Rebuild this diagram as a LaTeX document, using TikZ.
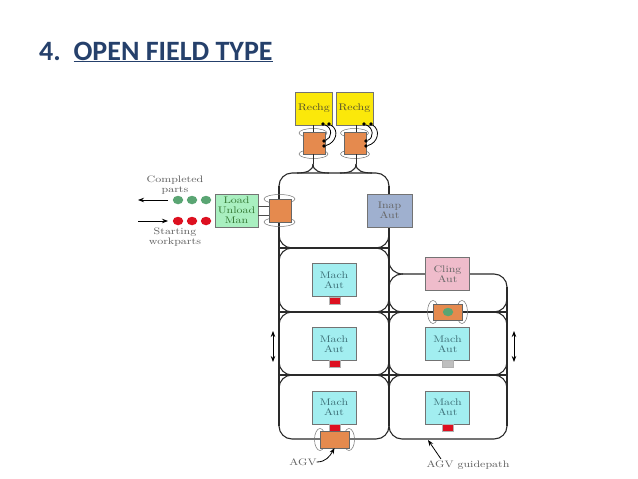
\documentclass[tikz,border=0pt]{standalone}
\usepackage{fontspec}
\newfontfamily\titlefont{Carlito}
\newfontfamily\widefont{Latin Modern Roman}[FakeStretch=1.24]
\usetikzlibrary{shapes.geometric,arrows.meta}
\definecolor{pathline}{HTML}{2a2a2a}
\definecolor{titleblue}{HTML}{25406b}
\definecolor{rechgfill}{HTML}{fbe80a}
\definecolor{agvfill}{HTML}{e58a4e}
\definecolor{loadfill}{HTML}{a9efc0}
\definecolor{inapfill}{HTML}{9fb0cf}
\definecolor{machfill}{HTML}{a2eef0}
\definecolor{clingfill}{HTML}{efbccb}
\definecolor{stopred}{HTML}{dd1020}
\definecolor{partgreen}{HTML}{5aa573}
\definecolor{labelgray}{HTML}{606060}
\definecolor{machtext}{HTML}{3d7078}
\tikzstyle{cell}=[rectangle, draw=pathline, line width=1.1pt, rounded corners=13pt, inner sep=0pt, outer sep=0pt]
\tikzstyle{station}=[rectangle, draw=black!55, line width=0.5pt, inner sep=0pt, outer sep=0pt, align=center, font=\widefont\fontsize{9.6}{10}\selectfont]
\tikzstyle{mach}=[station, fill=machfill, text=machtext, minimum width=44pt, minimum height=33pt]
\tikzstyle{agv}=[rectangle, draw=black!60, line width=0.5pt, fill=agvfill, inner sep=0pt, outer sep=0pt]
\tikzstyle{stop}=[rectangle, fill=stopred, draw=black!30, line width=0.3pt, minimum width=10.5pt, minimum height=7pt, inner sep=0pt]
\tikzstyle{loop}=[ellipse, draw=black!55, line width=0.5pt, inner sep=0pt, outer sep=0pt]
\tikzstyle{part}=[ellipse, minimum width=10.5pt, minimum height=8.5pt, inner sep=0pt]
\tikzstyle{pin}=[circle, fill=black, minimum size=3.8pt, inner sep=0pt, outer sep=0pt]
\tikzstyle{caption}=[inner sep=0pt, text=labelgray, align=center, font=\widefont\fontsize{9.4}{10}\selectfont]
\tikzstyle{flow}=[-{Stealth[length=6pt,width=4.5pt]}, line width=0.8pt, black]
\begin{document}
\begin{tikzpicture}[x=1pt, y=-1pt]
  \useasboundingbox (0,0) rectangle (638,479);
  \node (title) at (39,52) [anchor=west, inner sep=0pt, text=titleblue, font=\titlefont\bfseries\fontsize{28}{30}\selectfont] {4.\ \ \underline{OPEN FIELD TYPE}};

  \node (cellTop) at (334,210.5) [cell, minimum width=110pt, minimum height=75pt] {};
  \node (cellA) at (334,280) [cell, minimum width=110pt, minimum height=64pt] {};
  \node (cellB) at (334,343.5) [cell, minimum width=110pt, minimum height=63pt] {};
  \node (cellC) at (334,407) [cell, minimum width=110pt, minimum height=64pt] {};
  \node (cellD) at (448,293) [cell, minimum width=118pt, minimum height=38pt] {};
  \node (cellE) at (448,343.5) [cell, minimum width=118pt, minimum height=63pt] {};
  \node (cellF) at (448,407) [cell, minimum width=118pt, minimum height=64pt] {};
  \coordinate (leftTop) at (279,186);
  \coordinate (leftBot) at (279,426);
  \coordinate (midTop) at (389,186);
  \coordinate (midBot) at (389,426);
  \coordinate (rightTop) at (507,287);
  \coordinate (rightBot) at (507,426);
  \coordinate (forkD) at (389,261);
  \coordinate (joinD) at (403,274);
  \draw[pathline, line width=1.1pt] (leftTop) -- (leftBot);
  \draw[pathline, line width=1.1pt] (midTop) -- (midBot);
  \draw[pathline, line width=1.1pt] (rightTop) -- (rightBot);
  \draw[pathline, line width=1.1pt] (cellA.north west) -- (cellA.north east);
  \draw[pathline, line width=1.1pt] (cellB.north west) -- (cellE.north east);
  \draw[pathline, line width=1.1pt] (cellC.north west) -- (cellF.north east);
  \draw[pathline, line width=1.1pt] (forkD) .. controls (389,269) and (395,274) .. (joinD);

  \node (rechgA) at (314,108.5) [station, fill=rechgfill, text=black!55!olive, minimum width=37pt, minimum height=33pt] {Rechg};
  \node (rechgB) at (354.5,108.5) [station, fill=rechgfill, text=black!55!olive, minimum width=37pt, minimum height=33pt] {Rechg};
  \node (loopAtop) at (313,133) [loop, minimum width=28pt, minimum height=9pt] {};
  \node (loopAbot) at (313.5,154) [loop, minimum width=29pt, minimum height=9pt] {};
  \node (loopBtop) at (354.5,133) [loop, minimum width=28pt, minimum height=9pt] {};
  \node (loopBbot) at (355,154) [loop, minimum width=29pt, minimum height=9pt] {};
  \node (agvA) at (314,143) [agv, minimum width=22pt, minimum height=22pt] {};
  \node (agvB) at (355,143) [agv, minimum width=22pt, minimum height=22pt] {};
  \coordinate (forkA) at (313,164);
  \coordinate (forkB) at (356,164);
  \coordinate (endAl) at (297,173);
  \coordinate (endAr) at (329,173);
  \coordinate (endBl) at (340,173);
  \coordinate (endBr) at (372,173);
  \draw[pathline, line width=1pt] (rechgA.south -| forkA) -- (agvA.north -| forkA);
  \draw[pathline, line width=1pt] (rechgB.south -| forkB) -- (agvB.north -| forkB);
  \draw[pathline, line width=1pt] (agvA.south -| forkA) -- (forkA);
  \draw[pathline, line width=1pt] (agvB.south -| forkB) -- (forkB);
  \draw[pathline, line width=1.1pt] (forkA) .. controls (313,171) and (306,173) .. (endAl);
  \draw[pathline, line width=1.1pt] (forkA) .. controls (313,171) and (320,173) .. (endAr);
  \draw[pathline, line width=1.1pt] (forkB) .. controls (356,171) and (349,173) .. (endBl);
  \draw[pathline, line width=1.1pt] (forkB) .. controls (356,171) and (363,173) .. (endBr);

  \node (pinA1) at (323,124) [pin] {};
  \node (pinA2) at (329,124) [pin] {};
  \node (pinA3) at (324,141) [pin] {};
  \node (pinA4) at (324,146) [pin] {};
  \node (pinB1) at (364,124) [pin] {};
  \node (pinB2) at (371,124) [pin] {};
  \node (pinB3) at (366,141) [pin] {};
  \node (pinB4) at (366,146) [pin] {};
  \draw[black, line width=0.8pt] (pinA1) .. controls (333,128) and (332,138) .. (pinA3);
  \draw[black, line width=0.8pt] (pinA2) .. controls (340,130) and (336,143) .. (pinA4);
  \draw[black, line width=0.8pt] (pinB1) .. controls (374,128) and (374,138) .. (pinB3);
  \draw[black, line width=0.8pt] (pinB2) .. controls (381,130) and (378,143) .. (pinB4);

  \node (loopLtop) at (279.5,199) [loop, minimum width=31pt, minimum height=9pt] {};
  \node (loopLbot) at (279.5,222) [loop, minimum width=31pt, minimum height=9pt] {};
  \node (agvL) at (280,210.5) [agv, minimum width=22pt, minimum height=23pt] {};
  \node (load) at (236.5,210.5) [station, fill=loadfill, text=black!55!green!60!gray, minimum width=43pt, minimum height=33pt] {Load\\Unload\\Man};
  \draw[black!70, line width=0.5pt] (load.east |- 0,206) -- (agvL.west |- 0,206);
  \draw[black!70, line width=0.5pt] (load.east |- 0,215) -- (agvL.west |- 0,215);
  \node (inap) at (389.5,210.5) [station, fill=inapfill, text=black!60, minimum width=45pt, minimum height=33pt] {Inap\\Aut};

  \node (doneA) at (178,200) [part, fill=partgreen] {};
  \node (doneB) at (192,200) [part, fill=partgreen] {};
  \node (doneC) at (206,200) [part, fill=partgreen] {};
  \node (startA) at (178,221) [part, fill=stopred] {};
  \node (startB) at (192,221) [part, fill=stopred] {};
  \node (startC) at (206,221) [part, fill=stopred] {};
  \coordinate (doneEnd) at (138,200);
  \coordinate (doneTail) at (168,200);
  \coordinate (startEnd) at (138,221);
  \coordinate (startTip) at (168,221);
  \draw[flow] (doneTail) -- (doneEnd);
  \draw[flow] (startEnd) -- (startTip);
  \node (doneText) at (175,185) [caption] {Completed\\parts};
  \node (startText) at (175,237) [caption] {Starting\\workparts};

  \node (machA) at (334,280) [mach] {Mach\\Aut};
  \node (machB) at (334,344) [mach] {Mach\\Aut};
  \node (machC) at (334,407.5) [mach] {Mach\\Aut};
  \node (machE) at (447.5,344) [mach] {Mach\\Aut};
  \node (machF) at (447.5,407.5) [mach] {Mach\\Aut};
  \node (cling) at (447.5,274) [station, fill=clingfill, text=black!60, minimum width=44pt, minimum height=33pt] {Cling\\Aut};
  \node (stopA) at (334.5,300.5) [stop] {};
  \node (stopB) at (334.5,363.5) [stop] {};
  \node (stopC) at (334.5,427.5) [stop] {};
  \node (stopE) at (447.5,363.5) [stop, fill=black!25] {};
  \node (stopF) at (447.5,427.5) [stop] {};

  \node (loopRl) at (433,312) [loop, minimum width=11pt, minimum height=23pt] {};
  \node (loopRr) at (462,312) [loop, minimum width=11pt, minimum height=23pt] {};
  \node (agvR) at (447.5,312) [agv, minimum width=29pt, minimum height=16pt] {};
  \node (partR) at (448,312) [part, fill=partgreen] {};
  \node (loopCl) at (320,439.5) [loop, minimum width=11pt, minimum height=22pt] {};
  \node (loopCr) at (349,439.5) [loop, minimum width=11pt, minimum height=22pt] {};
  \node (agvC) at (334.5,439.5) [agv, minimum width=29pt, minimum height=17pt] {};

  \coordinate (arrowLa) at (273,331);
  \coordinate (arrowLb) at (273,362);
  \coordinate (arrowRa) at (514,331);
  \coordinate (arrowRb) at (514,362);
  \draw[flow, {Stealth[length=6pt,width=4.5pt]}-{Stealth[length=6pt,width=4.5pt]}] (arrowLa) -- (arrowLb);
  \draw[flow, {Stealth[length=6pt,width=4.5pt]}-{Stealth[length=6pt,width=4.5pt]}] (arrowRa) -- (arrowRb);

  \node (agvText) at (303,462) [caption] {AGV};
  \node (pathText) at (468,465) [caption] {AGV guidepath};
  \draw[flow] (agvText.east) .. controls (326,462) and (330,456) .. (agvC.south);
  \coordinate (pathTip) at (428,440);
  \coordinate (pathTail) at (441,459);
  \draw[flow] (pathTail) -- (pathTip);
\end{tikzpicture}
\end{document}
